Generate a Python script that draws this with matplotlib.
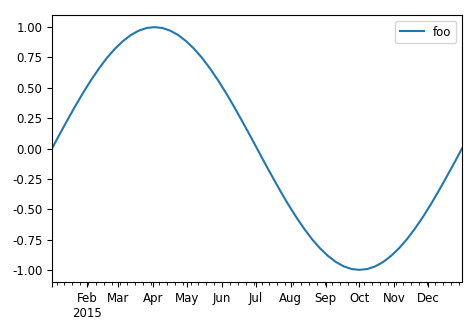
import datetime as dt
import matplotlib
matplotlib.use("Agg")
import matplotlib.pyplot as plt
import matplotlib.dates as mdates

# Weekly readings of the "foo" series through 2015 (week 0 = Jan 1, week 52 = Dec 31)
weeks = list(range(53))
rising = [0.000, 0.121, 0.239, 0.355, 0.465, 0.568, 0.663, 0.749, 0.823,
          0.885, 0.935, 0.971, 0.993, 1.000, 0.993, 0.971, 0.935, 0.885,
          0.823, 0.749, 0.663, 0.568, 0.465, 0.355, 0.239, 0.121]
falling = [0.000, -0.121, -0.239, -0.355, -0.465, -0.568, -0.663, -0.749,
           -0.823, -0.885, -0.935, -0.971, -0.993, -1.000, -0.993, -0.971,
           -0.935, -0.885, -0.823, -0.749, -0.663, -0.568, -0.465, -0.355,
           -0.239, -0.121, 0.000]
foo = rising + falling
series_name = "foo"
start = dt.date(2015, 1, 1)
dates = [start + dt.timedelta(days=7 * w) for w in weeks]

fig = plt.figure(figsize=(4.74, 3.27), dpi=100)
ax = fig.add_axes([52 / 474, 1 - 282 / 327, 410 / 474, 267 / 327])
ax.plot(dates, foo, color="#1f77b4", lw=1.5, label=series_name)
ax.set_xlim(dates[0], dates[-1])
ax.set_ylim(-1.1, 1.1)
ax.set_yticks([-1.0, -0.75, -0.5, -0.25, 0.0, 0.25, 0.5, 0.75, 1.0])
ax.yaxis.set_major_formatter(matplotlib.ticker.FormatStrFormatter("%.2f"))

ax.xaxis.set_major_locator(mdates.MonthLocator())
ax.xaxis.set_minor_locator(mdates.WeekdayLocator(byweekday=mdates.MO))


def month_label(x, pos):
    d = mdates.num2date(x)
    if d.month == 1:
        return ""
    if d.month == 2:
        return d.strftime("%b") + "\n" + d.strftime("%Y")
    return d.strftime("%b")


ax.xaxis.set_major_formatter(matplotlib.ticker.FuncFormatter(month_label))
ax.tick_params(labelsize=8.5)
ax.tick_params(axis="x", which="minor", length=2)
ax.legend(loc="upper right", fontsize=8.5)

fig.savefig("out.png", dpi=100)
